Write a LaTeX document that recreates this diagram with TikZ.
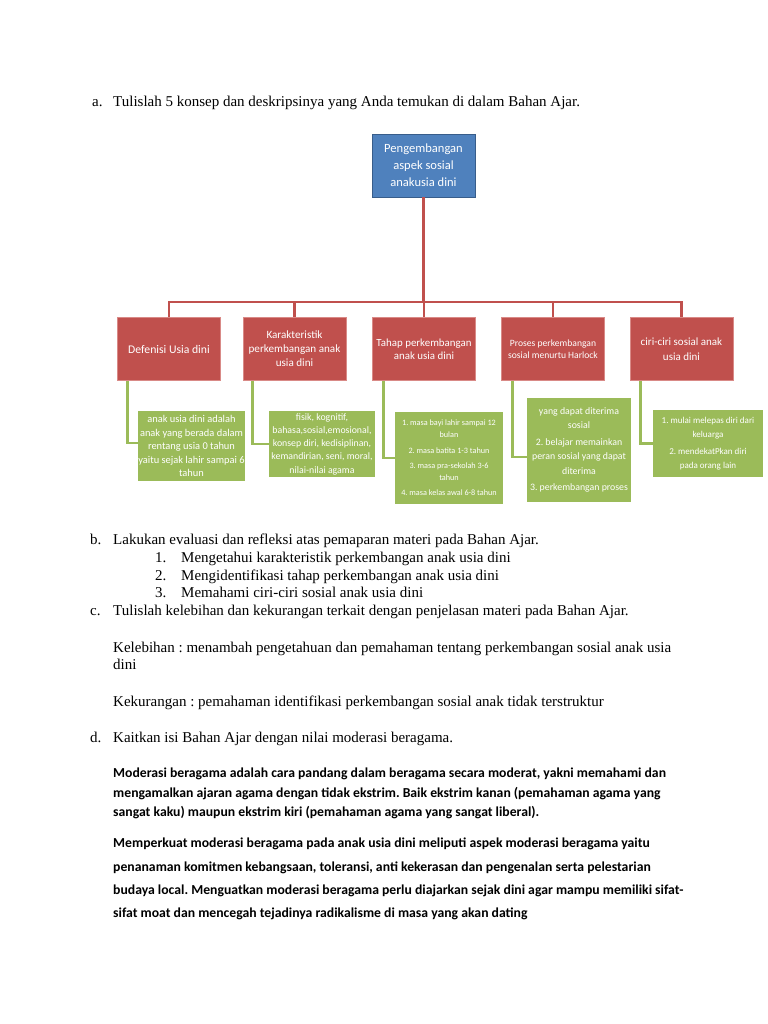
\documentclass[tikz,border=0pt]{standalone}
\usepackage{fontspec}
\setmainfont{Liberation Serif}
\newfontfamily\calibri{Carlito}
\usepackage{xcolor}
\definecolor{sablue}{HTML}{4F81BD}
\definecolor{sablueline}{HTML}{385D8A}
\definecolor{sared}{HTML}{C0504D}
\definecolor{saredline}{HTML}{D98A87}
\definecolor{sagreen}{HTML}{9BBB59}
\frenchspacing

\tikzset{
  rootbox/.style={draw=sablueline, fill=sablue, text=white, inner sep=0pt,
    minimum width=3.09cm, minimum height=1.89cm, align=center,
    font=\calibri\fontsize{10.7}{14.5}\selectfont},
  redbox/.style={draw=saredline, fill=sared, text=white, inner sep=0pt,
    minimum width=3.09cm, minimum height=1.89cm, align=center},
  greenbox/.style={fill=sagreen, text=white, inner sep=0pt, align=center},
  redline/.style={draw=sared, line width=2.4pt},
  greenline/.style={draw=sagreen, line width=2.4pt},
  body/.style={anchor=base west, inner sep=0pt, font=\fontsize{12.8}{15}\selectfont},
  boldpar/.style={anchor=north west, inner sep=0pt, align=left},
}

\begin{document}
\begin{tikzpicture}[x=0.03cm, y=-0.03cm]
\useasboundingbox[fill=white] (0,0) rectangle (768,1024);

% question a
\node[body] (qa) at (92,106) {a.};
\node[body] (qatxt) at (113,106) {Tulislah 5 konsep dan deskripsinya yang Anda temukan di dalam Bahan Ajar.};

% chart
\node[rootbox] (root) at (423.5,165.5) {Pengembangan\\aspek sosial\\anakusia dini};

\node[redbox, font=\calibri\fontsize{10}{12}\selectfont] (r1) at (169,349) {Defenisi Usia dini};
\node[redbox, font=\calibri\fontsize{9.5}{12}\selectfont] (r2) at (294.5,349) {Karakteristik\\perkembangan anak\\usia dini};
\node[redbox, font=\calibri\fontsize{9.3}{11.5}\selectfont] (r3) at (424,349) {Tahap perkembangan\\anak usia dini};
\node[redbox, font=\calibri\fontsize{8.2}{10.5}\selectfont] (r4) at (553,349) {Proses perkembangan\\sosial menurtu Harlock};
\node[redbox, font=\calibri\fontsize{9.4}{13}\selectfont] (r5) at (681.5,349) {ciri-ciri sosial anak\\usia dini};

\coordinate (hub) at (423.5,302);
\foreach \n in {r1,r2,r3,r4,r5}
  \draw[redline] (root.south) -- (hub) -| (\n.north);

\node[greenbox, minimum width=3.15cm, minimum height=2.1cm,
  font=\calibri\fontsize{8.9}{11.5}\selectfont] (g1) at (191.5,446)
  {anak usia dini adalah\\anak yang berada dalam\\rentang usia 0 tahun\\yaitu sejak lahir sampai 6\\tahun};
\node[greenbox, minimum width=3.18cm, minimum height=1.98cm,
  font=\calibri\fontsize{8.4}{11.3}\selectfont] (g2) at (322,444)
  {fisik, kognitif,\\bahasa,sosial,emosional,\\konsep diri, kedisiplinan,\\kemandirian, seni, moral,\\nilai-nilai agama};
\node[greenbox, minimum width=3.24cm, minimum height=2.76cm,
  font=\calibri\fontsize{7}{10.2}\selectfont] (g3) at (449,458)
  {1. masa bayi lahir sampai 12\\bulan\\[3pt]2. masa batita 1-3 tahun\\[3pt]3. masa pra-sekolah 3-6\\tahun\\[3pt]4. masa kelas awal 6-8 tahun};
\node[greenbox, minimum width=3.12cm, minimum height=3.12cm,
  font=\calibri\fontsize{8.4}{12.2}\selectfont] (g4) at (579,450)
  {yang dapat diterima\\sosial\\[2pt]2. belajar memainkan\\peran sosial yang dapat\\diterima\\[2pt]3. perkembangan proses};
\node[greenbox, minimum width=3.3cm, minimum height=2.01cm,
  font=\calibri\fontsize{7.7}{12}\selectfont] (g5) at (708,443.5)
  {1. mulai melepas diri dari\\keluarga\\[3pt]2. mendekatPkan diri\\pada orang lain};

\draw[greenline] ([xshift=0.3cm]r1.south west) |- ([yshift=0.09cm]g1.west);
\draw[greenline] ([xshift=0.3cm]r2.south west) |- (g2.west);
\draw[greenline] ([xshift=0.33cm]r3.south west) |- (g3.west);
\draw[greenline] ([xshift=0.33cm]r4.south west) |- ([yshift=-0.21cm]g4.west);
\draw[greenline] ([xshift=0.33cm]r5.south west) |- (g5.west);

% question b
\node[body] (qb) at (90,544) {b.};
\node[body] (qbtxt) at (113,544) {Lakukan evaluasi dan refleksi atas pemaparan materi pada Bahan Ajar.};
\node[body] (n1) at (155,562) {1.};
\node[body] (i1) at (181,562) {Mengetahui karakteristik perkembangan anak usia dini};
\node[body] (n2) at (155,580) {2.};
\node[body] (i2) at (181,580) {Mengidentifikasi tahap perkembangan anak usia dini};
\node[body] (n3) at (155,597) {3.};
\node[body] (i3) at (181,597) {Memahami ciri-ciri sosial anak usia dini};

% question c
\node[body] (qc) at (90,615) {c.};
\node[body] (qctxt) at (113,615) {Tulislah kelebihan dan kekurangan terkait dengan penjelasan materi pada Bahan Ajar.};
\node[body] (lebih) at (113,652) {Kelebihan : menambah pengetahuan dan pemahaman tentang perkembangan sosial anak usia};
\node[body] (lebih2) at (113,669) {dini};
\node[body] (kurang) at (113,706) {Kekurangan : pemahaman identifikasi perkembangan sosial anak tidak terstruktur};

% question d
\node[body] (qd) at (90,742) {d.};
\node[body] (qdtxt) at (113,742) {Kaitkan isi Bahan Ajar dengan nilai moderasi beragama.};

\node[boldpar, font=\calibri\bfseries\fontsize{11.7}{16.6}\selectfont] (par1) at (113,768)
  {Moderasi beragama adalah cara pandang dalam beragama secara moderat, yakni memahami dan\\
   mengamalkan ajaran agama dengan tidak ekstrim. Baik ekstrim kanan (pemahaman agama yang\\
   sangat kaku) maupun ekstrim kiri (pemahaman agama yang sangat liberal).};
\node[boldpar, font=\calibri\bfseries\fontsize{11.7}{19.9}\selectfont] (par2) at (113,838)
  {Memperkuat moderasi beragama pada anak usia dini meliputi aspek moderasi beragama yaitu\\
   penanaman komitmen kebangsaan, toleransi, anti kekerasan dan pengenalan serta pelestarian\\
   budaya local. Menguatkan moderasi beragama perlu diajarkan sejak dini agar mampu memiliki sifat-\\
   sifat moat dan mencegah tejadinya radikalisme di masa yang akan dating};
\end{tikzpicture}
\end{document}
